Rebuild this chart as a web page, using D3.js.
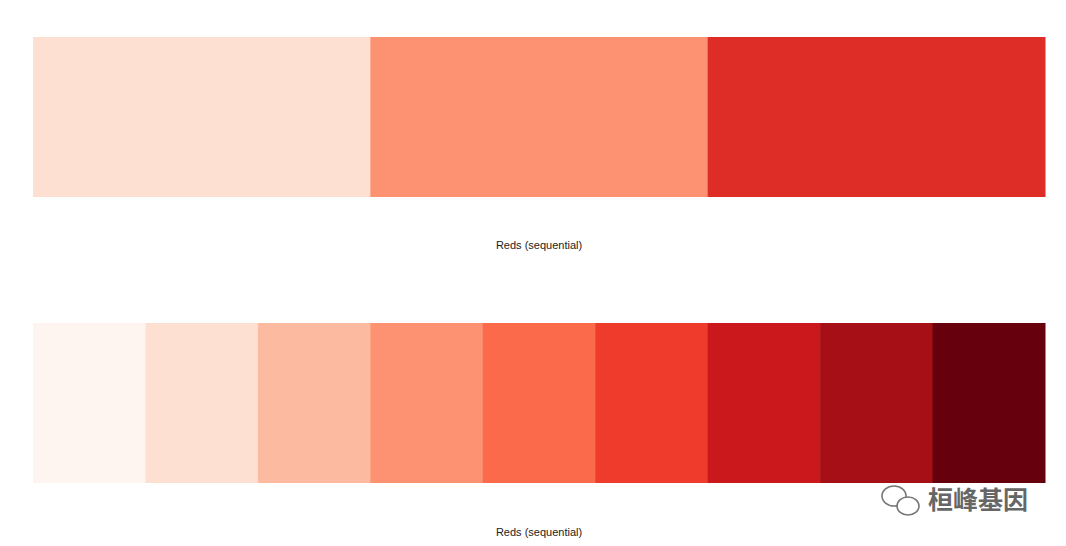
<!DOCTYPE html>
<html><head><meta charset="utf-8">
<script src="https://cdn.jsdelivr.net/npm/d3@7"></script>
<style>body{margin:0;background:#fff}</style></head>
<body><svg id="c" width="1066" height="546"></svg>
<script>
const reds3 = ["#fee0d2","#fc9272","#de2d26"];
const reds9 = ["#fff5f0","#fee0d2","#fcbba1","#fc9272","#fb6a4a","#ef3b2c","#cb181d","#a50f15","#67000d"];
const titles = ["Reds (sequential)","Reds (sequential)"];
const svg = d3.select("#c");
const panels = [{cols:reds3,y:37,ly:249},{cols:reds9,y:323,ly:536}];
panels.forEach((p,i)=>{
  const x = d3.scaleBand().domain(d3.range(p.cols.length)).range([33,1045]);
  svg.selectAll(null).data(p.cols).enter().append("rect")
    .attr("x",(d,j)=>x(j)).attr("width",x.bandwidth()+0.5)
    .attr("y",p.y).attr("height",160).attr("fill",d=>d);
  svg.append("text").attr("x",539).attr("y",p.ly).attr("text-anchor","middle")
    .attr("font-family","Liberation Sans, Arial").attr("font-size",11).attr("fill","#222").text(titles[i]);
});
// watermark
const g = svg.append("g").attr("fill","none").attr("stroke","#777").attr("stroke-width",1.6);
g.append("ellipse").attr("cx",894).attr("cy",496).attr("rx",12).attr("ry",10);
g.append("ellipse").attr("cx",908).attr("cy",506).attr("rx",11).attr("ry",9).attr("fill","#fff");
svg.append("text").attr("x",928).attr("y",509).attr("font-family","Noto Sans CJK SC")
  .attr("font-size",25).attr("font-weight","bold").attr("fill","#666").text("桓峰基因");
</script></body></html>
